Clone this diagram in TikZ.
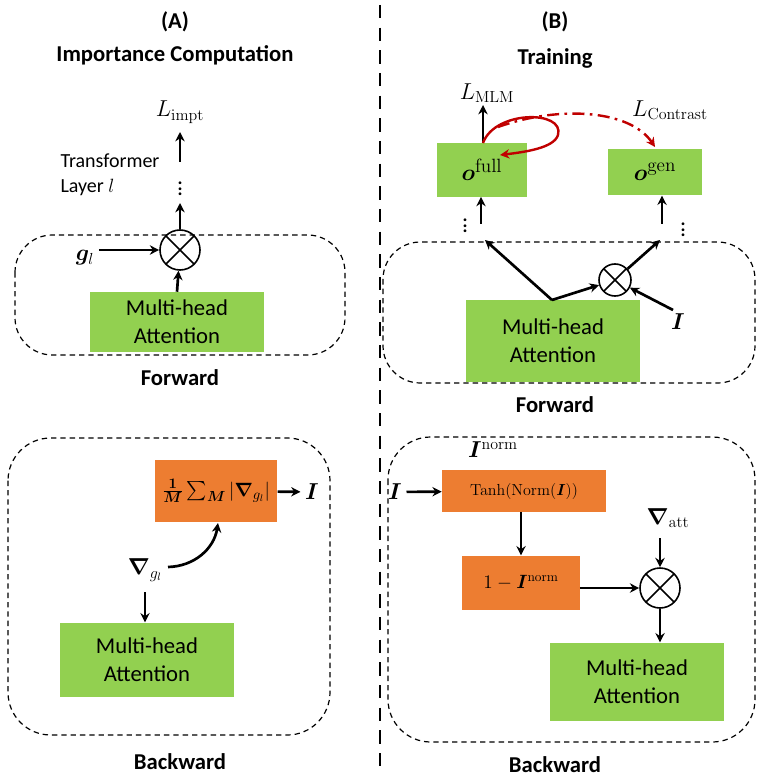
\documentclass[tikz,border=0pt]{standalone}
\usepackage{amsmath,bm}
\usepackage[no-math]{fontspec}
\setmainfont{Carlito}
\usetikzlibrary{arrows.meta}
\definecolor{gr}{RGB}{146,208,80}
\definecolor{orr}{RGB}{237,125,49}
\definecolor{rd}{RGB}{192,0,0}
\begin{document}
\begin{tikzpicture}[x=0.75pt,y=-0.75pt,
 green/.style={fill=gr,inner sep=0pt,align=center,font=\fontsize{17}{21}\selectfont},
 orange/.style={fill=orr,inner sep=0pt,align=center},
 dbox/.style={draw,dash pattern=on 4pt off 3pt,rounded corners=28pt,line width=0.9pt},
 arr/.style={-{Stealth[length=7pt,width=7pt]},line width=2pt},
 tit/.style={font=\bfseries\fontsize{17}{20}\selectfont},
 dts/.style={inner sep=0pt,font=\bfseries\fontsize{14}{14}\selectfont},
 ot/.style={circle,draw,line width=1.2pt,minimum size=#1,inner sep=0pt,path picture={\draw[line width=1.2pt] (path picture bounding box.north west)--(path picture bounding box.south east) (path picture bounding box.north east)--(path picture bounding box.south west);}},
 lab/.style={font=\fontsize{17}{20}\selectfont}]
\useasboundingbox (0,0) rectangle (762,780);
% titles
\node[tit] (tA) at (175,22) {(A)};
\node[tit] (tA2) at (175,55) {Importance Computation};
\node[tit] (tB) at (555,22) {(B)};
\node[tit] (tB2) at (555,58) {Training};
\draw[line width=2pt,dash pattern=on 10pt off 7pt] (380,5) -- (380,775);
% left forward
\node[lab] (limpt) at (180,112) {$L_{\mathrm{impt}}$};
\node[lab,align=left,font=\fontsize{15}{19}\selectfont] (tl) at (110,175) {Transformer\\Layer $l$};
\node[dts] (ldots) at (180,185) {$\vdots$};
\coordinate (ldtop) at (180,132);
\draw[arr] (180,162) -- (ldtop);
\draw[dbox] (15,235) rectangle (345,355);
\node[ot=30pt] (lot) at (180,250) {};
\node[lab] (gl) at (85,258) {$\bm{g}_l$};
\draw[arr] (gl.east|-lot) -- (lot);
\draw[arr] (lot) -- (180,203);
\node[green,minimum width=131pt,minimum height=45pt] (lmha) at (177,322) {Multi-head\\Attention};
\draw[arr] (lmha.north) -- (lot);
\node[tit] (lf) at (180,378) {Forward};
% left backward
\draw[dbox,rounded corners=32pt] (8,438) rectangle (330,735);
\node[orange,minimum width=92pt,minimum height=46pt,font=\fontsize{15}{16}\selectfont] (sum) at (216,491) {$\frac{\bm{1}}{\bm{M}}\textstyle\sum_{\bm{M}}|\bm{\nabla}_{g_l}|$};
\node[lab] (lI) at (312,492) {$\bm{I}$};
\draw[arr] (sum) -- (lI);
\node[lab] (grad) at (145,570) {$\bm{\nabla}_{g_l}$};
\draw[arr] (168,567) to[bend right=40] (218,523);
\node[green,minimum width=131pt,minimum height=56pt] (lmha2) at (147,660) {Multi-head\\Attention};
\draw[arr] (145,592) -- (lmha2.north-|145,0);
\node[tit] (lb) at (180,762) {Backward};
% right forward
\node[green,minimum width=68pt,minimum height=40pt,font=\fontsize{19}{21}\selectfont] (ofull) at (482,170) {$\bm{o}^{\mathrm{full}}$};
\node[green,minimum width=70pt,minimum height=35pt,font=\fontsize{19}{21}\selectfont] (ogen) at (655,172) {$\bm{o}^{\mathrm{gen}}$};
\node[lab] (lmlm) at (487,93) {$L_{\mathrm{MLM}}$};
\node[lab] (lcon) at (670,110) {$L_{\mathrm{Contrast}}$};
\draw[arr] (ofull.north-|483,0) -- (483,105);
\draw[rd,line width=1.8pt,-{Stealth[length=7pt,width=7pt]}] (483,143) .. controls (495,110) and (565,110) .. (558,135) .. controls (554,148) and (525,152) .. (500,155);
\draw[rd,line width=1.8pt,dash pattern=on 9pt off 4pt on 2pt off 4pt,-{Stealth[length=7pt,width=7pt]}] (498,127) .. controls (560,105) and (630,110) .. (655,147);
\node[dts] (d1) at (465,222) {$\vdots$};
\node[dts] (d2) at (683,226) {$\vdots$};
\coordinate (a1) at (481,224);
\coordinate (a2) at (662,224);
\draw[arr] (a1) -- (ofull.south-|a1);
\draw[arr] (a2) -- (ogen.south-|a2);
\draw[dbox] (383,242) rectangle (755,383);
\node[green,minimum width=131pt,minimum height=62pt] (rmha) at (553,341) {Multi-head\\Attention};
\node[ot=24pt] (rot) at (615,280) {};
\coordinate (split) at (552,300);
\draw[arr] (split) -- (485,240);
\draw[arr] (split) -- (rot);
\draw[arr] (rot) -- (660,240);
\node[lab] (rI) at (678,322) {$\bm{I}$};
\draw[arr] (673,310) -- (rot);
\node[tit] (rf) at (555,405) {Forward};
% right backward
\draw[dbox,rounded corners=32pt] (388,437) rectangle (755,742);
\node[lab] (inorm) at (493,450) {$\bm{I}^{\mathrm{norm}}$};
\node[orange,minimum width=123pt,minimum height=31pt,font=\fontsize{13}{14}\selectfont] (tanh) at (524,491) {$\mathrm{Tanh}(\mathrm{Norm}(\bm{I}))$};
\node[lab] (bI) at (395,492) {$\bm{I}$};
\draw[arr] (bI) -- (tanh);
\node[orange,minimum width=88pt,minimum height=41pt,font=\fontsize{14}{14}\selectfont] (onem) at (521,583) {$1-\bm{I}^{\mathrm{norm}}$};
\draw[arr] (tanh.south-|onem) -- (onem);
\node[ot=30pt] (bot) at (660,588) {};
\draw[arr] (onem.east|-bot) -- (bot);
\node[lab] (gatt) at (668,518) {$\bm{\nabla}_{\mathrm{att}}$};
\draw[arr] (660,538) -- (bot);
\node[green,minimum width=131pt,minimum height=59pt] (bmha) at (637,682) {Multi-head\\Attention};
\draw[arr] (bot) -- (bmha.north-|bot);
\node[tit] (rb) at (555,765) {Backward};
\end{tikzpicture}
\end{document}
